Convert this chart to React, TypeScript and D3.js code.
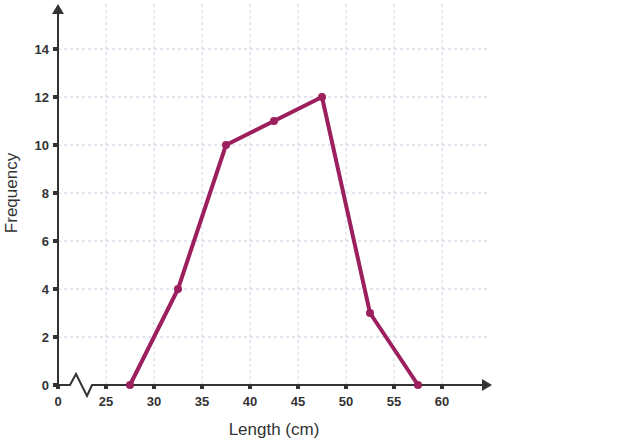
import React from "react";
import * as d3 from "d3";

const lengths = [27.5, 32.5, 37.5, 42.5, 47.5, 52.5, 57.5];
const frequencies = [0, 4, 10, 11, 12, 3, 0];
const xTicks = [25, 30, 35, 40, 45, 50, 55, 60];
const yTicks = [0, 2, 4, 6, 8, 10, 12, 14];

export default function App() {
  const W = 624, H = 442;
  const x = d3.scaleLinear().domain([20, 65]).range([58, 490]);
  const y = d3.scaleLinear().domain([0, 16]).range([385, 1]);
  const line = d3.line<number>().x((_, i) => x(lengths[i])).y((d) => y(d));
  const axisColor = "#333333";
  const lineColor = "#9c1f5e";
  const gridColor = "#dcdcec";
  const x0 = x(20);
  const y0 = y(0);
  const zig = `M${x0},${y0} L${x0 + 12},${y0} L${x0 + 18},${y0 - 11} L${x0 + 29},${y0 + 11} L${x0 + 34},${y0} L${x(65) - 2},${y0}`;
  return (
    <svg width={W} height={H} style={{ position: "absolute", left: 0, top: 0, fontFamily: "'Liberation Sans', Arial, sans-serif" }}>
      <rect width={W} height={H} fill="#fff" />
      {xTicks.map((t) => (
        <line key={"gx" + t} x1={x(t)} x2={x(t)} y1={y(0)} y2={y(16)} stroke={gridColor} strokeWidth={1.3} strokeDasharray="3,3" />
      ))}
      {yTicks.filter((t) => t > 0).map((t) => (
        <line key={"gy" + t} x1={x0} x2={x(65) - 2} y1={y(t)} y2={y(t)} stroke={gridColor} strokeWidth={1.3} strokeDasharray="3,3" />
      ))}
      {/* y axis */}
      <line x1={x0} x2={x0} y1={y0} y2={12} stroke={axisColor} strokeWidth={2} />
      <path d={`M${x0},4 L${x0 - 6},14 L${x0 + 6},14 Z`} fill={axisColor} />
      {/* x axis with break */}
      <path d={zig} fill="none" stroke={axisColor} strokeWidth={2} />
      <path d={`M${x(65) + 2},${y0} L${x(65) - 8},${y0 - 6} L${x(65) - 8},${y0 + 6} Z`} fill={axisColor} />
      {/* x ticks */}
      {[20, ...xTicks].map((t) => (
        <g key={"xt" + t}>
          <rect x={x(t) - 2} y={y0} width={4} height={4} fill={axisColor} />
          <text x={x(t)} y={406} textAnchor="middle" fontSize={13} fontWeight="bold" fill={axisColor}>
            {t === 20 ? "0" : t}
          </text>
        </g>
      ))}
      {yTicks.map((t) => (
        <g key={"yt" + t}>
          <rect x={x0 - 5} y={y(t) - 2} width={5} height={4} fill={axisColor} />
          <text x={49} y={y(t)} dy="0.35em" textAnchor="end" fontSize={13} fontWeight="bold" fill={axisColor}>
            {t}
          </text>
        </g>
      ))}
      <path d={line(frequencies) || ""} fill="none" stroke={lineColor} strokeWidth={4} strokeLinejoin="round" />
      {frequencies.map((f, i) => (
        <circle key={"p" + i} cx={x(lengths[i])} cy={y(f)} r={4} fill={lineColor} />
      ))}
      <text x={274} y={435} textAnchor="middle" fontSize={17} fill={axisColor}>Length (cm)</text>
      <text transform={`translate(17,193) rotate(-90)`} textAnchor="middle" fontSize={17} fill={axisColor}>Frequency</text>
    </svg>
  );
}
